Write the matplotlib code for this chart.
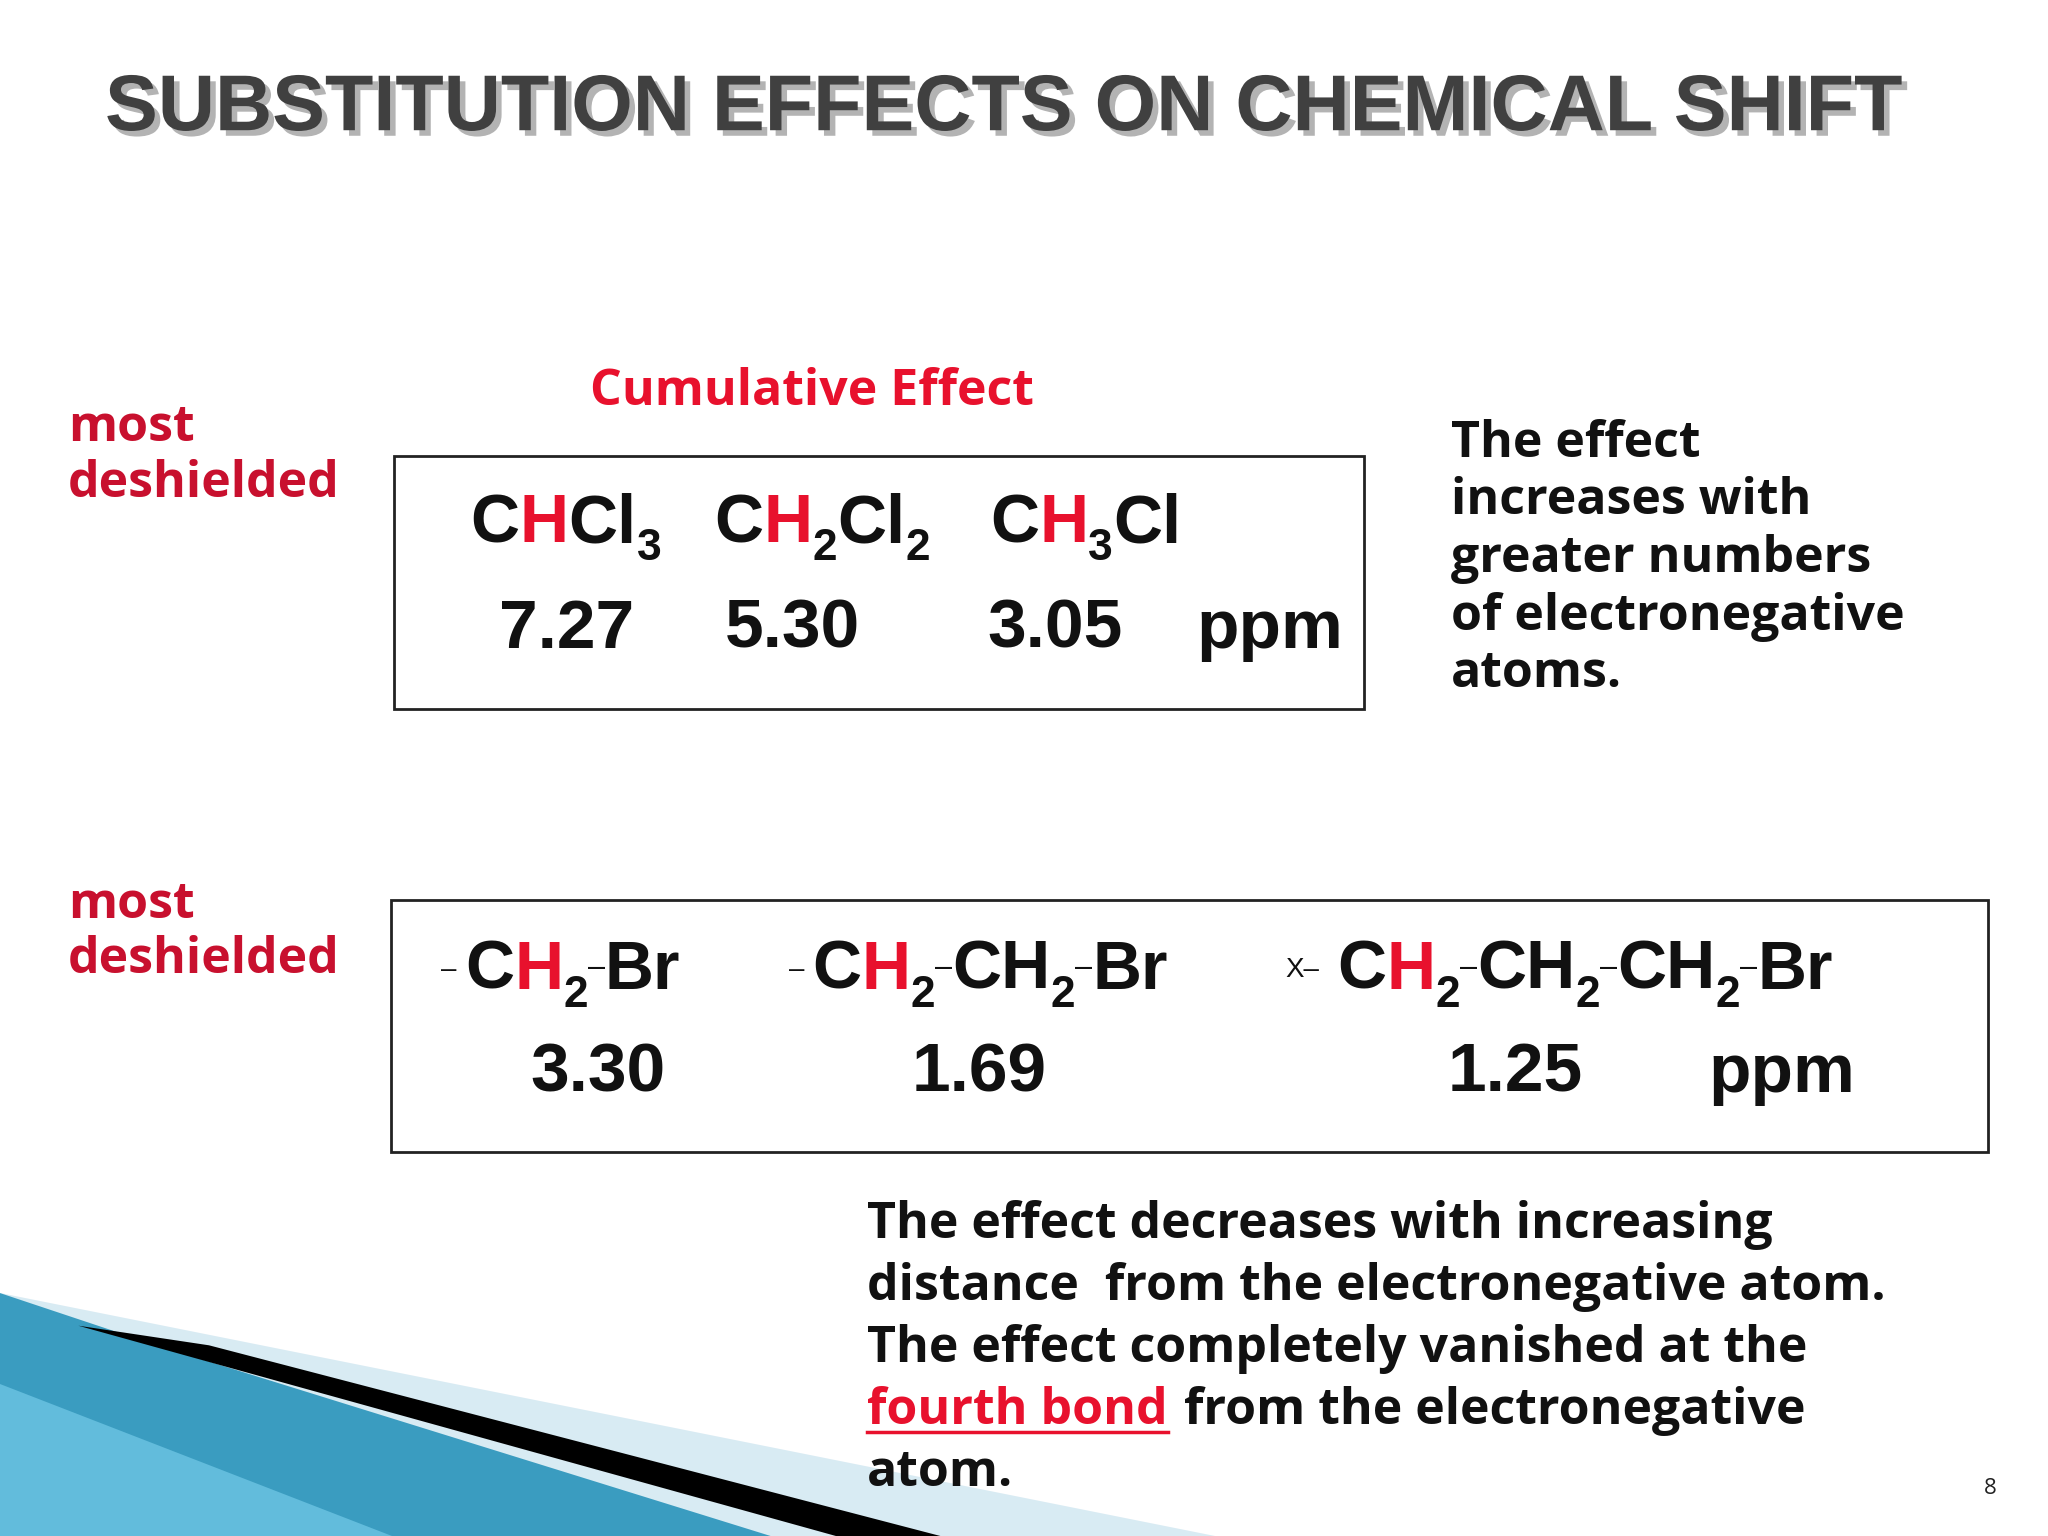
import matplotlib.pyplot as plt
from matplotlib.patches import Rectangle, Polygon
import matplotlib.patheffects as pe
import numpy as np

W, H = 1568, 1176  # layout units (reference pixels)
RED = "#e8112d"
DARK = "#111111"

title = "SUBSTITUTION EFFECTS ON CHEMICAL SHIFT"
top_formulas = [
    [("C", DARK, 0), ("H", RED, 0), ("Cl", DARK, 0), ("3", DARK, 1)],
    [("C", DARK, 0), ("H", RED, 0), ("2", DARK, 1), ("Cl", DARK, 0), ("2", DARK, 1)],
    [("C", DARK, 0), ("H", RED, 0), ("3", DARK, 1), ("Cl", DARK, 0)],
]
top_x = [360, 547, 758]
top_shifts = ["7.27", "5.30", "3.05"]
top_shift_x = [382, 555, 756]

bot_formulas = [
    [("C", DARK, 0), ("H", RED, 0), ("2", DARK, 1), ("-", DARK, 2), ("Br", DARK, 0)],
    [("C", DARK, 0), ("H", RED, 0), ("2", DARK, 1), ("-", DARK, 2), ("CH", DARK, 0),
     ("2", DARK, 1), ("-", DARK, 2), ("Br", DARK, 0)],
    [("C", DARK, 0), ("H", RED, 0), ("2", DARK, 1), ("-", DARK, 2), ("CH", DARK, 0),
     ("2", DARK, 1), ("-", DARK, 2), ("CH", DARK, 0), ("2", DARK, 1), ("-", DARK, 2),
     ("Br", DARK, 0)],
]
bot_x = [356, 622, 1024]
bot_shifts = ["3.30", "1.69", "1.25"]
bot_shift_x = [406, 698, 1108]

fig = plt.figure(figsize=(20.48, 15.36), dpi=100)
ax = fig.add_axes([0, 0, 1, 1])
ax.set_xlim(0, W)
ax.set_ylim(H, 0)
ax.axis("off")
r = fig.canvas.get_renderer()
sx = 2048 / W

# bottom-left decoration
ax.add_patch(Polygon([(0, 990), (0, 1176), (930, 1176)], color="#d8ebf3", lw=0))
ax.add_patch(Polygon([(0, 990), (0, 1176), (590, 1176), (120, 1030)], color="#3a9cc0", lw=0))
ax.add_patch(Polygon([(0, 1060), (0, 1176), (300, 1176)], color="#62bcdc", lw=0))
ax.add_patch(Polygon([(60, 1015), (160, 1030), (720, 1176), (640, 1176)], color="black", lw=0))

ax.text(768, 84, title, fontsize=57, fontweight="bold", family="Liberation Sans",
        color="#404040", ha="center", va="center",
        path_effects=[pe.withSimplePatchShadow(offset=(4, -4), shadow_rgbFace="#a0a0a0", alpha=0.8)])


def formula(x, y, pieces, size=49):
    for txt, col, kind in pieces:
        if kind == 1:
            t = ax.text(x, y + 14, txt, fontsize=size * 0.65, fontweight="bold",
                        family="Liberation Sans", color=col, va="baseline")
        elif kind == 2:
            t = ax.text(x, y - 10, "\u2013", fontsize=size * 0.45,
                        family="Liberation Sans", color=col, va="baseline")
        else:
            t = ax.text(x, y, txt, fontsize=size, fontweight="bold",
                        family="Liberation Sans", color=col, va="baseline")
        x += t.get_window_extent(r).width / sx


body = dict(fontsize=36, fontweight="bold", family="Open Sans")
num = dict(fontsize=50, fontweight="bold", family="Liberation Sans", color=DARK)

for yy in (325, 690):
    ax.text(52, yy + 24, "most\ndeshielded", color="#c8102e", va="center", ha="left",
            linespacing=1.15, **body)

ax.text(622, 300, "Cumulative Effect", color=RED, ha="center", va="center", **body)
ax.add_patch(Rectangle((302, 349), 742, 194, fill=False, ec="#222222", lw=2))
for x, f in zip(top_x, top_formulas):
    formula(x, 415, f)
for x, s in zip(top_shift_x, top_shifts):
    ax.text(x, 496, s, **num)
ax.text(916, 496, "ppm", **num)
ax.text(1111, 428, "The effect\nincreases with\ngreater numbers\nof electronegative\natoms.",
        color=DARK, va="center", linespacing=1.2, **body)

ax.add_patch(Rectangle((299, 689), 1223, 193, fill=False, ec="#222222", lw=2))
ax.text(338, 748, "\u2013", fontsize=20, family="Liberation Sans", color=DARK)
ax.text(604, 748, "\u2013", fontsize=20, family="Liberation Sans", color=DARK)
ax.text(984, 748, "X\u2013", fontsize=20, family="Liberation Sans", color=DARK)
for x, f in zip(bot_x, bot_formulas):
    formula(x, 757, f)
for x, s in zip(bot_shift_x, bot_shifts):
    ax.text(x, 836, s, **num)
ax.text(1308, 836, "ppm", **num)

lines = ["The effect decreases with increasing",
         "distance  from the electronegative atom.",
         "The effect completely vanished at the",
         None,
         "atom."]
for i, ln in enumerate(lines):
    y = 948 + i * 47.5
    if ln is None:
        t = ax.text(664, y, "fourth bond", color=RED, va="baseline", **body)
        w = t.get_window_extent(r).width / sx
        ax.plot([664, 664 + w], [y + 6, y + 6], color=RED, lw=2.5)
        ax.text(664 + w + 12, y, "from the electronegative", color=DARK, va="baseline", **body)
    else:
        ax.text(664, y, ln, color=DARK, va="baseline", **body)

ax.text(1524, 1140, "8", fontsize=16, family="Open Sans", color="#222222", ha="center", va="center")

fig.savefig("out.png", dpi=100)
